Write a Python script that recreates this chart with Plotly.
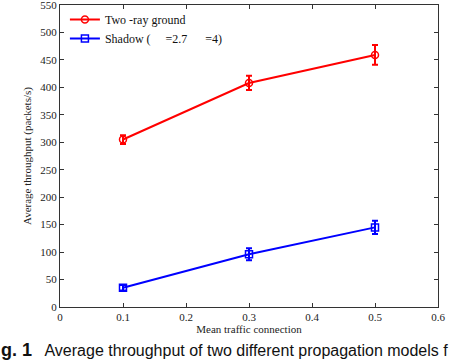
import plotly.graph_objects as go

traffic = [0.1, 0.3, 0.5]
two_ray = [305, 408, 459]
two_ray_err = [8, 13, 18]
shadow = [35, 96, 145]
shadow_err = [5, 11, 12]

x_ticks = [0, 0.1, 0.2, 0.3, 0.4, 0.5, 0.6]
y_ticks = list(range(0, 551, 50))

FONT = "Liberation Serif"

fig = go.Figure()
fig.add_trace(go.Scatter(
    x=traffic, y=two_ray, name="Two -ray ground", mode="lines+markers",
    line=dict(color="#ff0000", width=2),
    marker=dict(symbol="circle-open", size=7, color="#ff0000", line=dict(width=1.5)),
    error_y=dict(type="data", array=two_ray_err, color="#ff0000", thickness=2, width=3),
))
fig.add_trace(go.Scatter(
    x=traffic, y=shadow, name="Shadow (\u2003 =2.7 \u2003 =4)", mode="lines+markers",
    line=dict(color="#0000ff", width=2),
    marker=dict(symbol="square-open", size=7, color="#0000ff", line=dict(width=1.5)),
    error_y=dict(type="data", array=shadow_err, color="#0000ff", thickness=2, width=3),
))

axis_common = dict(
    showgrid=False, zeroline=False, showline=True, linecolor="#333", linewidth=1,
    mirror="ticks", ticks="inside", ticklen=4, tickcolor="#333", automargin=False,
    ticklabeloverflow="allow",
    tickfont=dict(family=FONT, size=11, color="#222"),
)
fig.update_xaxes(range=[0, 0.6], tickvals=x_ticks, ticktext=[f"{v:g}" for v in x_ticks],
                 title=dict(text="Mean traffic connection", font=dict(family=FONT, size=11, color="#222"), standoff=2),
                 **axis_common)
fig.update_yaxes(range=[0, 550], tickvals=y_ticks, ticktext=[str(v) for v in y_ticks],
                 title=dict(text="Average throughput (packets/s)", font=dict(family=FONT, size=11, color="#222"), standoff=6),
                 **axis_common)

fig.add_annotation(
    text="<b><span style='font-size:18px'>g. 1</span></b>   Average throughput of two different propagation models f",
    xref="paper", yref="paper", x=-60/378, y=-53.5/302, xanchor="left", yanchor="bottom",
    showarrow=False, borderpad=0, font=dict(family="Liberation Sans", size=16, color="#111"),
)

fig.update_layout(
    width=474, height=361,
    margin=dict(l=60, r=36, t=5, b=54),
    paper_bgcolor="white", plot_bgcolor="white",
    showlegend=True,
    legend=dict(x=0.013, y=1.0, xanchor="left", yanchor="top", bgcolor="rgba(0,0,0,0)",
                font=dict(family=FONT, size=12, color="#111"), itemwidth=30, tracegroupgap=0),
)

fig.write_html("out.html", config={"displayModeBar": False},
               post_script="document.body.style.margin='0';")
